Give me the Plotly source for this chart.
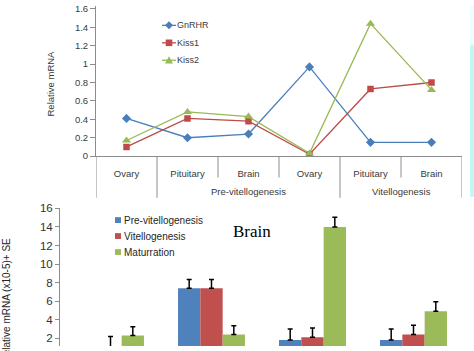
import plotly.graph_objects as go

W, H = 474, 351

# ---------------- top chart data ----------------
tissues = ["Ovary", "Pituitary", "Brain", "Ovary", "Pituitary", "Brain"]
stages = ["", "Pre-vitellogenesis", "Pre-vitellogenesis", "Pre-vitellogenesis",
          "Vitellogenesis", "Vitellogenesis"]
gnrhr = [0.41, 0.20, 0.24, 0.97, 0.15, 0.15]
kiss1 = [0.10, 0.41, 0.38, 0.02, 0.73, 0.80]
kiss2 = [0.17, 0.48, 0.43, 0.03, 1.44, 0.72]
top_ticks = [0, 0.2, 0.4, 0.6, 0.8, 1, 1.2, 1.4, 1.6]

# ---------------- bottom chart data ----------------
genes = ["Gene A", "Gene B", "Gene C", "Gene D"]
pre_vit = [0.5, 7.4, 1.8, 1.8]
pre_vit_se = [0.4, 0.95, 1.2, 1.2]
vit = [1.0, 7.4, 2.1, 2.4]
vit_se = [1.2, 0.95, 1.0, 1.0]
mat = [2.3, 2.4, 14.0, 4.9]
mat_se = [0.95, 0.95, 1.05, 1.05]
bottom_ticks = [2, 4, 6, 8, 10, 12, 14, 16]


def px(x):
    return x / W


def py(y):
    return 1 - y / H


AX = "#8c8c8c"
TXT = "#3a3a3a"
FONT = "Liberation Sans, Arial, sans-serif"

fig = go.Figure()

idx = list(range(len(tissues)))
line_series = [
    ("GnRHR", gnrhr, "#4a7ebb", "diamond", 7),
    ("Kiss1", kiss1, "#be4b48", "square", 6.5),
    ("Kiss2", kiss2, "#98b954", "triangle-up", 8),
]
for name, vals, col, sym, sz in line_series:
    fig.add_trace(go.Scatter(
        x=idx, y=vals, name=name, mode="lines+markers",
        line=dict(color=col, width=1.3),
        marker=dict(color=col, symbol=sym, size=sz, line=dict(width=0)),
        xaxis="x", yaxis="y", showlegend=False))

bar_series = [
    ("Pre-vitellogenesis", pre_vit, pre_vit_se, "#4f81bd"),
    ("Vitellogenesis", vit, vit_se, "#c0504d"),
    ("Maturration", mat, mat_se, "#9bbb59"),
]
for name, vals, se, col in bar_series:
    fig.add_trace(go.Bar(
        x=genes, y=vals, name=name,
        marker=dict(color=col, line=dict(width=0)),
        error_y=dict(type="data", array=se, arrayminus=[0] * len(se),
                     symmetric=False, color="black", thickness=1.5, width=2.5),
        xaxis="x2", yaxis="y2", showlegend=False))

shapes = []
annotations = []

# x-axis box dividers for top chart
top_axis_y = 155
for b in [-0.5] + [i + 0.5 for i in idx]:
    left = int(b - 0.5)
    right = left + 1
    edge = left < 0 or right >= len(idx)
    long_line = edge or stages[left] != stages[right]
    shapes.append(dict(type="line", xref="x", yref="paper", x0=b, x1=b,
                       y0=py(top_axis_y), y1=py(198 if long_line else 177),
                       line=dict(color=AX, width=1)))

# group labels
for st in dict.fromkeys(stages):
    if not st:
        continue
    ii = [i for i, s in enumerate(stages) if s == st]
    annotations.append(dict(x=(min(ii) + max(ii)) / 2, xref="x", y=py(192), yref="paper",
                            text=st, showarrow=False, xanchor="center", yanchor="middle",
                            font=dict(size=9.5, color=TXT)))

# top legend
for k, (name, vals, col, sym, sz) in enumerate(line_series):
    yy = 20 + 18 * k
    shapes.append(dict(type="line", xref="paper", yref="paper", x0=px(162), x1=px(176),
                       y0=py(yy), y1=py(yy), line=dict(color=col, width=1.3)))
    if sym == "diamond":
        path = "M 0,4 L 4,0 L 0,-4 L -4,0 Z"
    elif sym == "square":
        path = "M -3.3,-3.3 L 3.3,-3.3 L 3.3,3.3 L -3.3,3.3 Z"
    else:
        path = "M -4,-3.3 L 4,-3.3 L 0,4 Z"
    shapes.append(dict(type="path", xref="paper", yref="paper", xsizemode="pixel",
                       ysizemode="pixel", xanchor=px(169), yanchor=py(yy), path=path,
                       fillcolor=col, line=dict(width=0)))
    annotations.append(dict(x=px(175), y=py(yy), xref="paper", yref="paper", text=name,
                            showarrow=False, xanchor="left", yanchor="middle",
                            font=dict(size=9, color=TXT)))

# bottom legend
for k, (name, vals, se, col) in enumerate(bar_series):
    yy = 221 + 16.5 * k
    shapes.append(dict(type="rect", xref="paper", yref="paper", x0=px(115), x1=px(121),
                       y0=py(yy + 3), y1=py(yy - 3), fillcolor=col, line=dict(width=0)))
    annotations.append(dict(x=px(122), y=py(yy), xref="paper", yref="paper", text=name,
                            showarrow=False, xanchor="left", yanchor="middle",
                            font=dict(size=10, color="#262626")))

# titles
annotations.append(dict(x=px(50), y=py(80), xref="paper", yref="paper", text="Relative mRNA",
                        showarrow=False, textangle=-90, xanchor="center", yanchor="middle",
                        font=dict(size=9.5, color=TXT)))
annotations.append(dict(x=px(6), y=py(304), xref="paper", yref="paper",
                        text="Relative mRNA (x10-5)+ SE",
                        showarrow=False, textangle=-90, xanchor="center", yanchor="middle",
                        font=dict(size=10, color="#262626")))
annotations.append(dict(x=px(252), y=py(233), xref="paper", yref="paper", text="Brain",
                        showarrow=False, xanchor="center", yanchor="middle",
                        font=dict(size=17, color="black",
                                  family="Liberation Serif, Times New Roman, serif")))

# cyan strip at the right edge
shapes.append(dict(type="rect", xref="paper", yref="paper", x0=px(470), x1=1,
                   y0=py(40), y1=1, fillcolor="#eefdfd", line=dict(width=0), layer="below"))
shapes.append(dict(type="rect", xref="paper", yref="paper", x0=px(470), x1=1,
                   y0=py(197), y1=py(40), fillcolor="#c6f7f7", line=dict(width=0), layer="below"))

px_per_unit_bottom = (343 - 209) / 14

fig.update_layout(
    width=W, height=H, margin=dict(l=0, r=0, t=0, b=0),
    paper_bgcolor="white", plot_bgcolor="rgba(0,0,0,0)",
    barmode="group", bargap=0.337, bargroupgap=0,
    showlegend=False,
    font=dict(family=FONT, color=TXT),
    xaxis=dict(domain=[px(96), px(462)], range=[-0.5, 5.5], tickmode="array",
               tickvals=idx, ticktext=tissues, showline=True, linecolor=AX, linewidth=1,
               ticks="outside", ticklen=8, tickcolor="rgba(0,0,0,0)",
               tickfont=dict(size=9.5, color=TXT), showgrid=False, zeroline=False,
               anchor="y"),
    yaxis=dict(domain=[py(155), 1], range=[0, 155 / 95], tickmode="array",
               tickvals=top_ticks, ticktext=[f"{t:g}" for t in top_ticks],
               ticks="outside", ticklen=5, tickcolor=AX, showline=True, linecolor=AX,
               linewidth=1, tickfont=dict(size=9.5, color=TXT), showgrid=False,
               zeroline=False, anchor="x"),
    xaxis2=dict(domain=[px(60), px(464)], range=[-0.5, 3.5], anchor="y2",
                showline=False, showticklabels=False, ticks="", showgrid=False,
                zeroline=False),
    yaxis2=dict(domain=[0, py(209)], range=[16 - (351 - 209) / px_per_unit_bottom, 16],
                tickmode="array", tickvals=bottom_ticks,
                ticks="outside", ticklen=4, tickcolor=AX, showline=True, linecolor=AX,
                linewidth=1, tickfont=dict(size=11.5, color="#333333"), showgrid=False,
                zeroline=False, anchor="x2"),
    shapes=shapes,
    annotations=annotations,
)

fig.write_html("out.html")
